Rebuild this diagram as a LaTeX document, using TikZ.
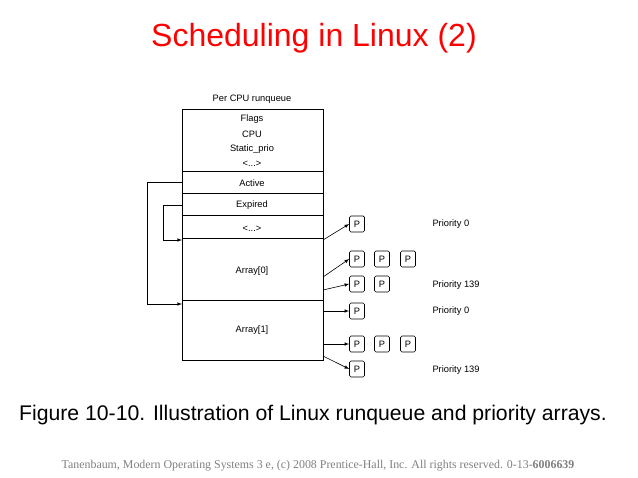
\documentclass[tikz,border=0pt]{standalone}
\usepackage{fontspec}
\setmainfont{Liberation Sans}
\newfontfamily\serif{Liberation Serif}
\begin{document}
\begin{tikzpicture}[x=1pt,y=-1pt,
 t/.style={font=\fontsize{9.3}{11}\selectfont},
 p/.style={draw,line width=0.7pt,rounded corners=1.5pt,minimum width=15pt,minimum height=16pt,inner sep=0pt,font=\fontsize{9.3}{11}\selectfont},
 ar/.style={-latex,line width=0.6pt}]
\useasboundingbox (0,0) rectangle (638,478);
\node[red,font=\fontsize{32}{36}\selectfont] (title) at (314,38) {Scheduling in Linux (2)};
\node[t] (hdr) at (252,99) {Per CPU runqueue};
\draw[line width=1pt] (182,110) rectangle (323,361);
\foreach \y in {171,193,215,238,300} \draw[line width=0.7pt] (182,\y) -- (323,\y);
\node[t] (f) at (252,119) {Flags};
\node[t] (c) at (252,134) {CPU};
\node[t] (s) at (252,149) {Static\_prio};
\node[t] (d1) at (252,164) {<...>};
\node[t] (act) at (252,183) {Active};
\node[t] (exp) at (252,205) {Expired};
\node[t] (d2) at (252,229) {<...>};
\node[t] (a0) at (252,271) {Array[0]};
\node[t] (a1) at (252,330) {Array[1]};
\coordinate (actL) at (182,182);
\coordinate (expL) at (182,205);
\coordinate (a0T) at (182,240);
\coordinate (a1T) at (182,304);
\draw[ar] (actL) -- (147,182) -- (147,304) -- (a1T);
\draw[ar] (expL) -- (163,205) -- (163,240) -- (a0T);
\node[p] (p1) at (357,224) {P};
\node[p] (p2) at (357,259) {P};
\node[p] (p2b) at (382,259) {P};
\node[p] (p2c) at (408,259) {P};
\node[p] (p3) at (357,284) {P};
\node[p] (p3b) at (382,284) {P};
\node[p] (p4) at (357,311) {P};
\node[p] (p5) at (357,344) {P};
\node[p] (p5b) at (382,344) {P};
\node[p] (p5c) at (408,344) {P};
\node[p] (p6) at (357,369) {P};
\coordinate (s1) at (323,240);
\coordinate (s2) at (323,277);
\coordinate (s3) at (323,290);
\coordinate (s4) at (323,311);
\coordinate (s5) at (323,344);
\coordinate (s6) at (323,356);
\draw[ar] (s1) -- (p1.west);
\draw[ar] (s2) -- (p2.west);
\draw[ar] (s3) -- (p3.west);
\draw[ar] (s4) -- (p4.west);
\draw[ar] (s5) -- (p5.west);
\draw[ar] (s6) -- (p6.west);
\node[t,anchor=west] (l1) at (429,224) {Priority 0};
\node[t,anchor=west] (l2) at (429,285) {Priority 139};
\node[t,anchor=west] (l3) at (429,311) {Priority 0};
\node[t,anchor=west] (l4) at (429,370) {Priority 139};
\node[font=\fontsize{21.2}{24}\selectfont] (cap) at (313,415) {Figure 10-10. Illustration of Linux runqueue and priority arrays.};
\node[gray,font=\serif\fontsize{11.9}{14}\selectfont] (foot) at (318,466) {Tanenbaum, Modern Operating Systems 3 e, (c) 2008 Prentice-Hall, Inc. All rights reserved. 0-13-\textbf{6006639}};
\end{tikzpicture}
\end{document}
